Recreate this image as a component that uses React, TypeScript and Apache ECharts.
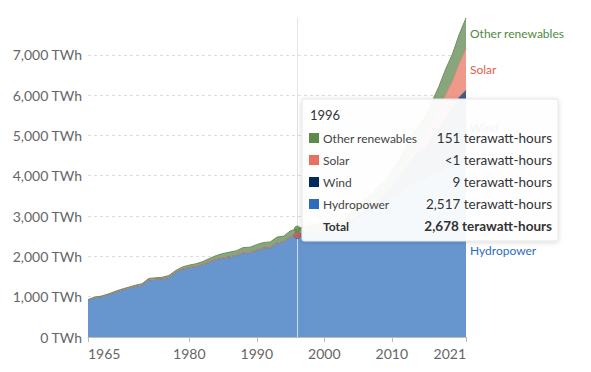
import React, { useEffect, useRef } from "react";
import * as echarts from "echarts";

const years: string[] = [];
for (let y = 1965; y <= 2021; y++) years.push(String(y));

const hydropower = [
  915, 975, 1000, 1050, 1110, 1165, 1210, 1255, 1290, 1420,
  1430, 1440, 1480, 1600, 1680, 1720, 1745, 1790, 1860, 1920,
  1960, 1990, 2020, 2090, 2090, 2150, 2200, 2210, 2330, 2350,
  2480, 2517, 2570, 2590, 2610, 2650, 2590, 2630, 2630, 2800,
  2920, 3030, 3080, 3220, 3240, 3430, 3490, 3660, 3780, 3880,
  3880, 4020, 4060, 4180, 4230, 4350, 4270,
];
const wind = [
  0, 0, 0, 0, 0, 0, 0, 0, 0, 0,
  0, 0, 0, 0, 0, 0, 0, 0, 0.03, 0.1,
  0.2, 0.3, 0.5, 0.8, 2.6, 3.6, 4.1, 4.7, 5.6, 7.1,
  8.2, 9, 12, 16, 21, 31, 38, 52, 63, 85,
  104, 133, 171, 220, 277, 342, 437, 522, 645, 712,
  831, 962, 1134, 1270, 1420, 1596, 1848,
];
const solar = [
  0, 0, 0, 0, 0, 0, 0, 0, 0, 0,
  0, 0, 0, 0, 0, 0, 0, 0, 0.01, 0.02,
  0.03, 0.04, 0.06, 0.1, 0.2, 0.4, 0.5, 0.5, 0.5, 0.6,
  0.6, 0.6, 0.7, 0.8, 0.9, 1.1, 1.3, 1.6, 2.0, 2.7,
  3.7, 5.1, 6.9, 11.8, 19.6, 32, 63, 97, 134, 190,
  251, 329, 442, 571, 697, 844, 1033,
];
const otherRenewables = [
  14, 15, 16, 18, 20, 22, 25, 28, 31, 34,
  38, 42, 47, 52, 58, 64, 72, 80, 90, 100,
  110, 116, 122, 128, 134, 138, 140, 142, 143, 145,
  148, 151, 157, 163, 170, 178, 180, 192, 205, 220,
  236, 252, 272, 293, 312, 345, 370, 400, 435, 470,
  505, 540, 585, 630, 675, 720, 762,
];

const xTickYears = ["1965", "1980", "1990", "2000", "2010", "2021"];
const highlightYear = "1996";

const seriesNames = ["Hydropower", "Wind", "Solar", "Other renewables"];
const seriesData = [hydropower, wind, solar, otherRenewables];
const fillColors = ["#6796cf", "#3d5b88", "#ef998a", "#87a67b"];
const lineColors = ["#5a86bd", "#4a5a70", "#c98a80", "#6f8f62"];
const swatchColors = ["#2e6bbf", "#002b5b", "#e8705d", "#5a8a4c"];
const labelColors = ["#2d6bc0", "#002b5b", "#e0604d", "#4f8a3f"];

const fmt = (v: number) => (v > 0 && v < 1 ? "<1" : Math.round(v).toLocaleString("en-US"));

export default function App() {
  const ref = useRef<HTMLDivElement>(null);
  useEffect(() => {
    if (!ref.current) return;
    const chart = echarts.init(ref.current, null, { renderer: "svg" });
    const n = years.length;
    const totals = years.map((_, i) => seriesData.reduce((s, d) => s + d[i], 0));
    const maxTotal = Math.max(...totals);
    const hi = years.indexOf(highlightYear);

    const series: any[] = seriesData.map((d, k) => {
      const below = seriesData.slice(0, k).reduce((s, dd) => s + dd[n - 1], 0);
      const mid = below + d[n - 1] / 2;
      return {
        name: seriesNames[k],
        type: "line",
        stack: "total",
        data: d,
        symbol: "none",
        showSymbol: false,
        lineStyle: { width: k === 0 ? 0 : 1, color: lineColors[k] },
        areaStyle: { color: fillColors[k], opacity: 1 },
        z: 2,
        markPoint: {
          symbol: "circle",
          symbolSize: 0,
          silent: true,
          data: [{ coord: [years[n - 1], mid], name: seriesNames[k] }],
          label: {
            show: true,
            position: "right",
            distance: 4,
            formatter: seriesNames[k],
            color: labelColors[k],
            fontSize: 12,
            fontFamily: "Lato",
          },
        },
      };
    });

    series[series.length - 1].markLine = {
      silent: true,
      symbol: "none",
      label: { show: false },
      lineStyle: { color: "rgba(225,225,225,0.9)", width: 1, type: "solid" },
      data: [{ xAxis: highlightYear }],
    };

    seriesData.forEach((d, k) => {
      const cum = seriesData.slice(0, k + 1).reduce((s, dd) => s + dd[hi], 0);
      series.push({
        type: "scatter",
        data: [[highlightYear, cum]],
        symbol: "circle",
        symbolSize: 6,
        itemStyle: { color: swatchColors[k], borderColor: swatchColors[k] },
        z: 5,
        silent: true,
      });
    });

    // Tooltip drawn as graphic
    const tx = 302, ty = 99, tw = 256, th = 142;
    const rows = [3, 2, 1, 0];
    const rowY = [138, 160, 182, 204];
    const g: any[] = [
      {
        type: "rect",
        shape: { x: tx, y: ty, width: tw, height: th, r: 2 },
        style: {
          fill: "rgba(255,255,255,0.94)",
          stroke: "#e6e6e6",
          lineWidth: 1,
          shadowBlur: 5,
          shadowColor: "rgba(0,0,0,0.15)",
          shadowOffsetY: 1,
        },
        z: 100,
      },
      {
        type: "text",
        x: 310,
        y: 115,
        style: { text: highlightYear, fontSize: 13, fontFamily: "Lato", fill: "#333", verticalAlign: "middle" },
        z: 101,
      },
    ];
    rows.forEach((k, r) => {
      g.push({
        type: "rect",
        shape: { x: 309, y: rowY[r] - 5, width: 10, height: 10 },
        style: { fill: swatchColors[k] },
        z: 101,
      });
      g.push({
        type: "text",
        x: 323,
        y: rowY[r],
        style: { text: seriesNames[k], fontSize: 12, fontFamily: "Lato", fill: "#444", verticalAlign: "middle" },
        z: 101,
      });
      g.push({
        type: "text",
        x: 552,
        y: rowY[r],
        style: {
          text: fmt(seriesData[k][hi]) + " terawatt-hours",
          fontSize: 13.5,
          fontFamily: "Lato",
          fill: "#333",
          align: "right",
          verticalAlign: "middle",
        },
        z: 101,
      });
    });
    g.push({
      type: "text",
      x: 323,
      y: 226,
      style: { text: "Total", fontSize: 12, fontWeight: "bold", fontFamily: "Lato", fill: "#333", verticalAlign: "middle" },
      z: 101,
    });
    g.push({
      type: "text",
      x: 552,
      y: 226,
      style: {
        text: fmt(totals[hi]) + " terawatt-hours",
        fontSize: 13.5,
        fontWeight: "bold",
        fontFamily: "Lato",
        fill: "#333",
        align: "right",
        verticalAlign: "middle",
      },
      z: 101,
    });

    chart.setOption({
      animation: false,
      textStyle: { fontFamily: "Lato" },
      grid: { left: 88, right: 125, top: 18, bottom: 35, containLabel: false },
      xAxis: {
        type: "category",
        data: years,
        boundaryGap: false,
        axisLine: { show: true, lineStyle: { color: "#bbb" } },
        axisTick: {
          show: true,
          length: 5,
          lineStyle: { color: "#bbb" },
          interval: (i: number, v: string) => xTickYears.includes(v),
        },
        axisLabel: {
          interval: (i: number, v: string) => xTickYears.includes(v),
          color: "#666",
          fontSize: 14,
          fontFamily: "Lato",
          margin: 9,
          alignMinLabel: "left",
          alignMaxLabel: "right",
        },
        splitLine: { show: false },
      },
      yAxis: {
        type: "value",
        min: 0,
        max: maxTotal,
        interval: 1000,
        axisLine: { show: false },
        axisTick: { show: false },
        axisLabel: {
          color: "#666",
          fontSize: 14,
          fontFamily: "Lato",
          margin: 6,
          showMaxLabel: false,
          formatter: (v: number) => (v % 1000 === 0 ? v.toLocaleString("en-US") + " TWh" : ""),
        },
        splitLine: {
          show: true,
          showMaxLine: false,
          lineStyle: { color: "#ddd", type: [3, 3] },
        },
      },
      series,
      graphic: g,
    });
    return () => chart.dispose();
  }, []);
  return <div ref={ref} style={{ width: 591, height: 372, position: "absolute", left: 0, top: 0 }} />;
}
